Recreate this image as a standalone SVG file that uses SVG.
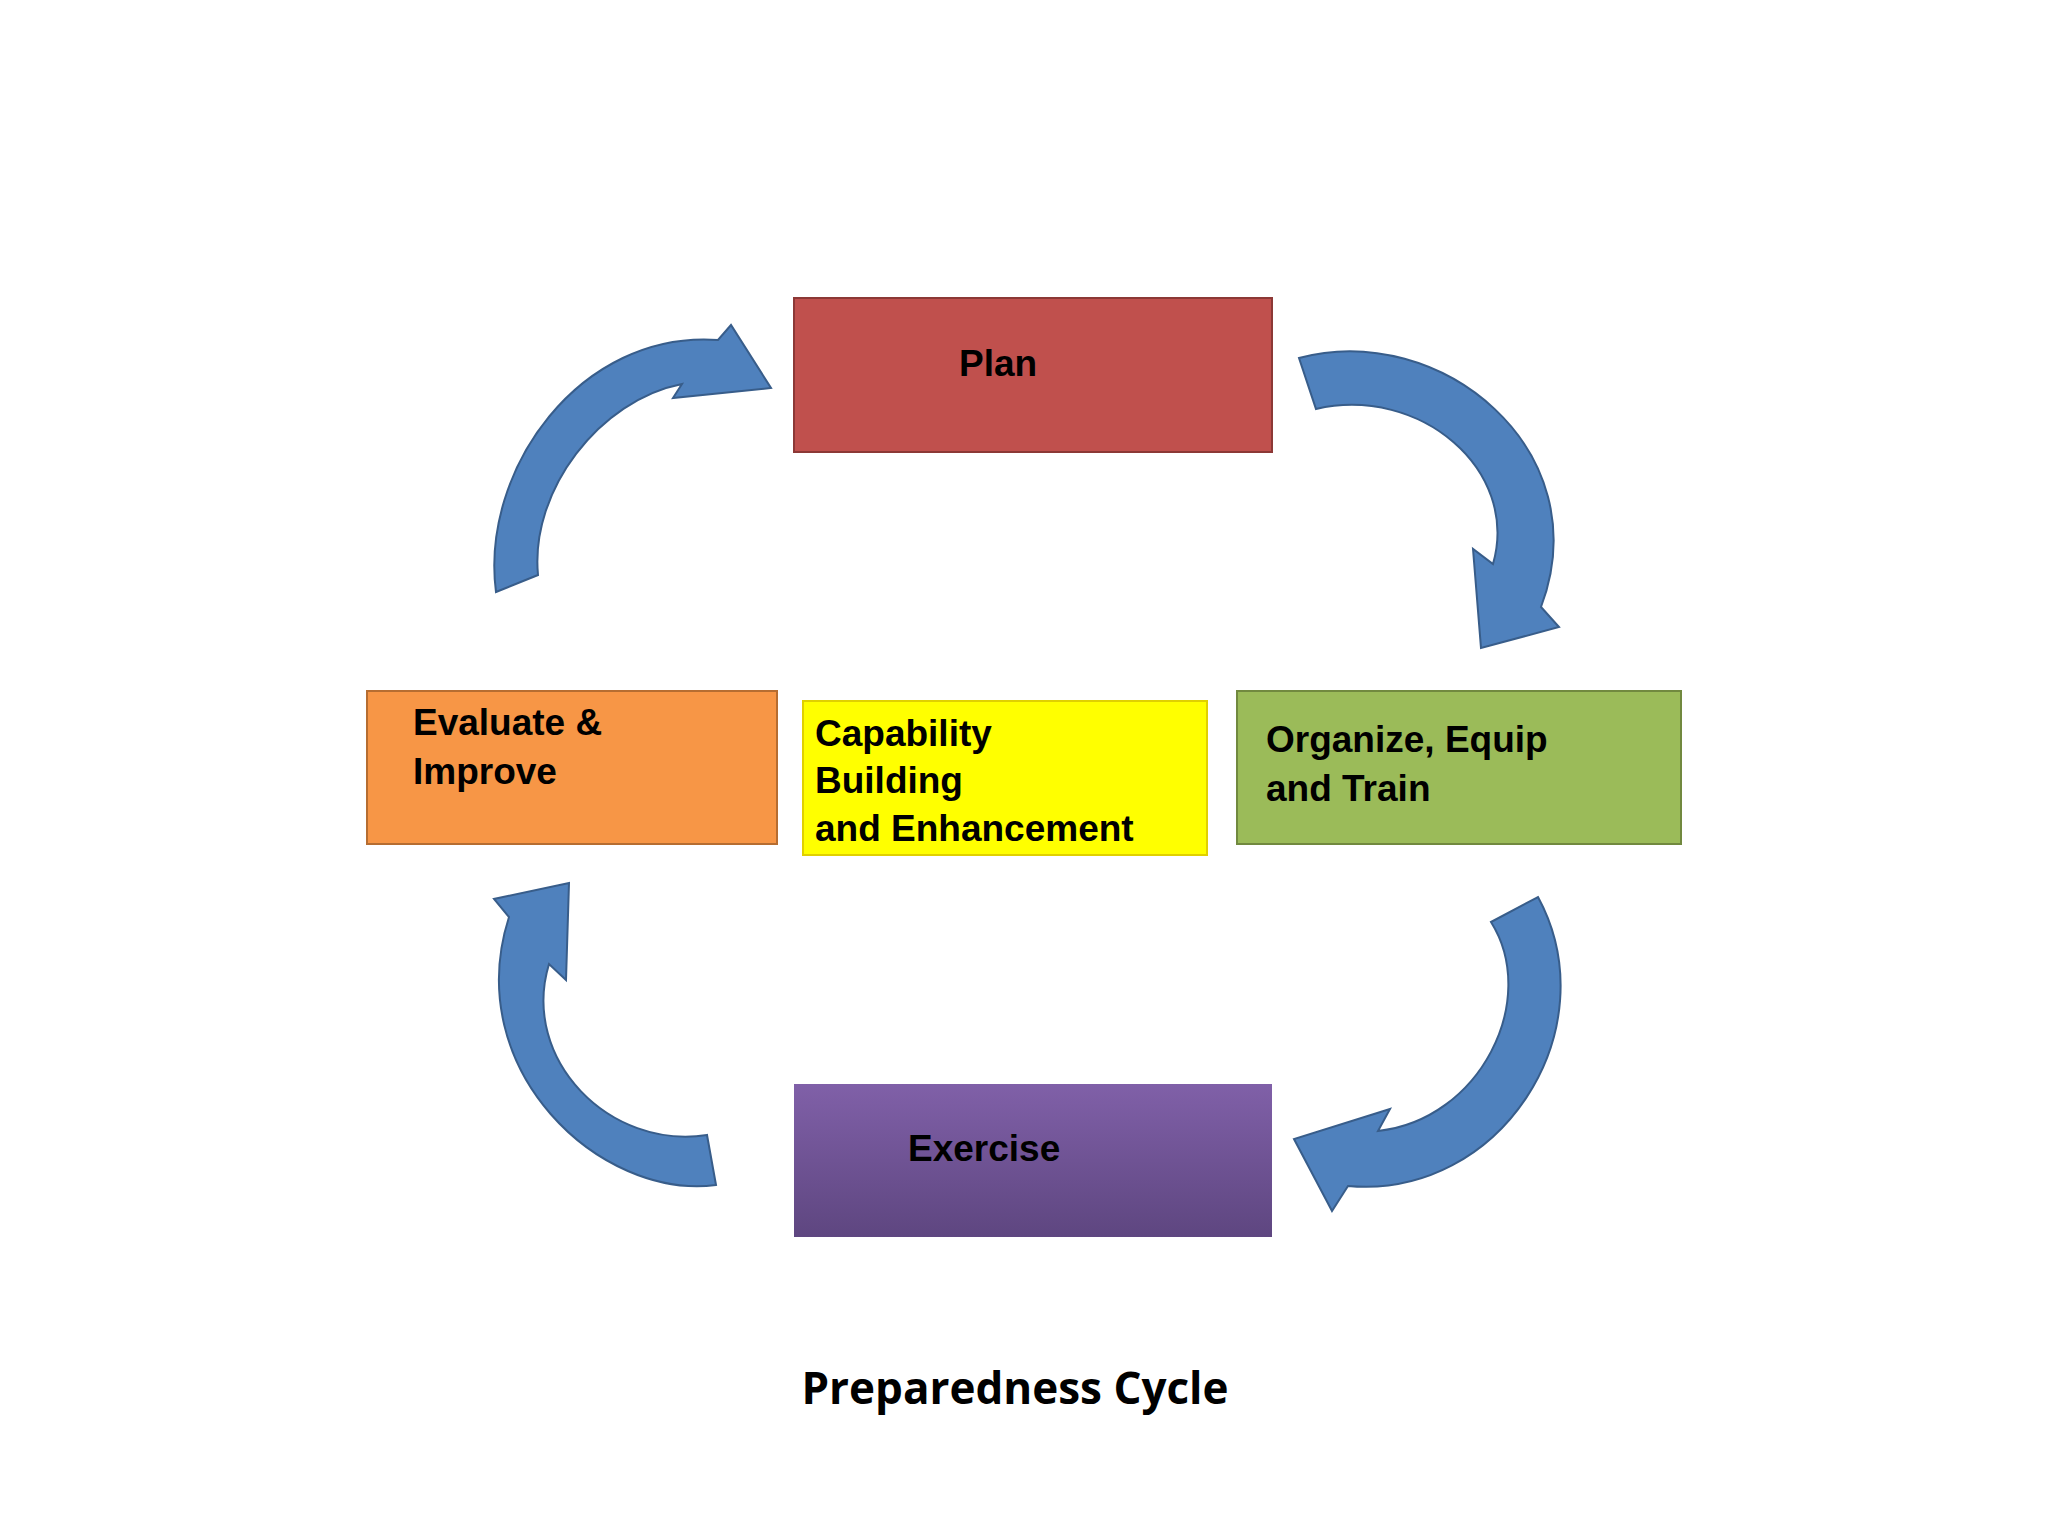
<svg xmlns="http://www.w3.org/2000/svg" width="2048" height="1536" viewBox="0 0 2048 1536">
<defs>
<linearGradient id="ex" x1="0" y1="0" x2="0" y2="1"><stop offset="0" stop-color="#8060A8"/><stop offset="1" stop-color="#5E4680"/></linearGradient>
<style>
.lbl{font-family:"Liberation Sans",Arial,sans-serif;font-weight:bold;font-size:37px;fill:#000}
.arr{fill:#4F81BD;stroke:#385D8A;stroke-width:2}
</style>
</defs>
<rect width="2048" height="1536" fill="#FFFFFF"/>
<g id="connectors">
<path class="arr" d="M496,592 C480,470 580,330 718,340 L731,325 L771,388 L673,398 L682,384 C600,400 530,490 538,575 Z"/>
<path class="arr" d="M1299,358 C1440,320 1600,450 1541,607 L1559,627 L1481,648 L1473,549 L1493,564 C1520,470 1420,385 1316,409 Z"/>
<path class="arr" d="M1538,897 C1610,1030 1500,1200 1348,1186 L1332,1211 L1294,1139 L1390,1109 L1378,1131 C1480,1120 1540,1000 1491,922 Z"/>
<path class="arr" d="M716,1185 C600,1200 460,1070 509,917 L494,899 L569,883 L566,980 L549,964 C520,1060 610,1150 707,1135 Z"/>
</g>
<g id="plan"><rect x="794" y="298" width="478" height="154" fill="#C0504D" stroke="#8C3836" stroke-width="2"/><text class="lbl" x="959" y="376">Plan</text></g>
<g id="evaluate"><rect x="367" y="691" width="410" height="153" fill="#F79646" stroke="#B66D31" stroke-width="2"/><text class="lbl" x="413" y="735">Evaluate &amp;</text><text class="lbl" x="413" y="784">Improve</text></g>
<g id="capability"><rect x="803" y="701" width="404" height="154" fill="#FFFF00" stroke="#E0D000" stroke-width="2"/><text class="lbl" x="815" y="746">Capability</text><text class="lbl" x="815" y="793">Building</text><text class="lbl" x="815" y="841">and Enhancement</text></g>
<g id="organize"><rect x="1237" y="691" width="444" height="153" fill="#9BBB59" stroke="#71893F" stroke-width="2"/><text class="lbl" x="1266" y="752">Organize, Equip</text><text class="lbl" x="1266" y="801">and Train</text></g>
<g id="exercise"><rect x="794" y="1084" width="478" height="153" fill="url(#ex)"/><text class="lbl" x="908" y="1161">Exercise</text></g>
<text x="1015" y="1404" text-anchor="middle" font-family="'Open Sans',Lato,sans-serif" font-weight="bold" font-size="44" fill="#000">Preparedness Cycle</text>
</svg>
